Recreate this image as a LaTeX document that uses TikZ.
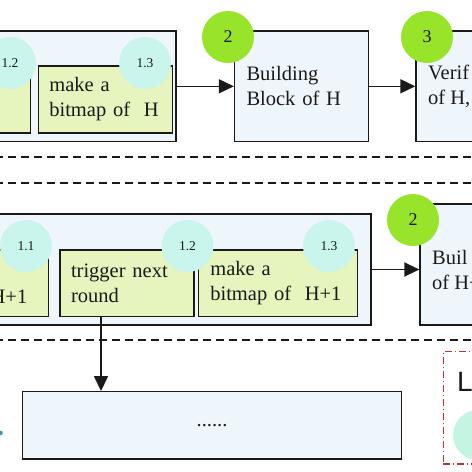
\documentclass[tikz,border=0pt]{standalone}
\usepackage{fontspec}
\setmainfont{Liberation Serif}
\newfontfamily\legfont{Liberation Sans}
\usetikzlibrary{arrows.meta}
\definecolor{boxblue}{HTML}{EFF6FB}
\definecolor{boxyel}{HTML}{E6F4BE}
\definecolor{cyanc}{HTML}{C9F5EC}
\definecolor{limec}{HTML}{98E42A}
\definecolor{mintc}{HTML}{C4F5E2}
\definecolor{legred}{HTML}{C0303A}
\definecolor{teald}{HTML}{3A9AAA}
\definecolor{ink}{HTML}{1A1A1A}
\tikzset{
  outerbox/.style={draw=ink, line width=1.3pt, fill=boxblue, inner sep=0pt},
  innerbox/.style={draw=ink, line width=1.3pt, fill=boxyel, inner sep=0pt},
  txt/.style={font=\fontsize{20.5}{25}\selectfont, text=ink, align=left},
  smallc/.style={circle, fill=cyanc, minimum size=52pt, inner sep=0pt, font=\fontsize{13.5}{15}\selectfont, text=ink},
  bigc/.style={circle, fill=limec, minimum size=52pt, inner sep=0pt, font=\fontsize{18}{20}\selectfont, text=ink},
  sep/.style={ink, line width=1.3pt, dash pattern=on 8pt off 5pt},
  arr/.style={ink, line width=1.5pt, -{Triangle[length=15pt,width=14pt]}},
}
\begin{document}
\begin{tikzpicture}[x=1pt,y=-1pt]
\useasboundingbox (0,0) rectangle (472,472);
\clip (0,0) rectangle (472,472);
% ---- top row (round H) ----
\node[outerbox, minimum width=196pt, minimum height=110.7pt] (o1) at (78,86.3) {};
\node[innerbox, minimum width=50.5pt, minimum height=67pt] (i1a) at (5.25,99.5) {};
\node[innerbox, minimum width=130.7pt, minimum height=67pt, txt, text width=112pt, inner xsep=11pt] (i1c) at (105.35,99.5) {make a\\bitmap of~ H};
\node[smallc] (c12) at (10,63) {1.2};
\node[smallc] (c13) at (145,63) {1.3};
\node[outerbox, minimum width=131pt, minimum height=110.7pt, txt, text width=110pt, inner xsep=12pt] (b2) at (301.5,86.3) {Building\\Block of H};
\node[bigc] (g2) at (228,37) {2};
\node[outerbox, minimum width=104pt, minimum height=110.7pt] (b3) at (468,86.3) {};
\node[txt, anchor=west, inner sep=0pt] (t3) at (428,86) {Verif\\of H,};
\node[bigc] (g3) at (427,37) {3};
\draw[arr] (o1.east) -- (b2.west);
\draw[arr] (b2.east) -- (b3.west);
% ---- separators ----
\coordinate (s1l) at (-5,157); \coordinate (s1r) at (477,157);
\coordinate (s2l) at (-5,183); \coordinate (s2r) at (477,183);
\coordinate (s3l) at (-5,340); \coordinate (s3r) at (477,340);
\draw[sep] (s1l) -- (s1r);
\draw[sep] (s2l) -- (s2r);
\draw[sep] (s3l) -- (s3r);
% ---- middle row (round H+1) ----
\node[outerbox, minimum width=391pt, minimum height=111pt] (o2) at (175.5,269.5) {};
\node[innerbox, minimum width=68.7pt, minimum height=66.7pt] (j1) at (14.35,283.35) {};
\node[txt, anchor=base east, inner sep=0pt] (j1t) at (27.5,303.5) {H+1};
\node[innerbox, minimum width=130.6pt, minimum height=66.7pt, txt, text width=112pt, inner xsep=11pt] (j2) at (127,283.35) {trigger next\\round};
\node[innerbox, minimum width=153.7pt, minimum height=66.7pt, txt, text width=135pt, inner xsep=12pt] (j3) at (277.85,283.35) {make a\\bitmap of~ H+1};
\node[smallc] (d11) at (26,246) {1.1};
\node[smallc] (d12) at (187.5,246) {1.2};
\node[smallc] (d13) at (329,246) {1.3};
\node[outerbox, minimum width=100pt, minimum height=121pt] (b2b) at (470,264.5) {};
\node[txt, anchor=west, inner sep=0pt] (t2b) at (432,270) {Buil\\of H+};
\node[bigc] (g2b) at (413,220) {2};
\draw[arr] (o2.east) -- (o2.east -| b2b.west);
% ---- bottom ----
\node[outerbox, minimum width=379.4pt, minimum height=67.3pt, txt] (bot) at (212,425.35) {......};
\draw[arr] ([xshift=-26pt]j2.south) -- ([xshift=-26pt]j2.south |- bot.north);
\fill[teald] (0.5,433) circle (2.3pt);
% ---- legend ----
\node[draw=legred, line width=1.2pt, dash pattern=on 7pt off 3pt on 1pt off 3pt, minimum width=60pt, minimum height=112.3pt] (leg) at (473.3,407.85) {};
\node[font=\legfont\fontsize{28}{30}\selectfont, text=ink, anchor=west, inner sep=0pt] (legt) at (457,382) {L};
\node[circle, fill=mintc, minimum size=50pt, inner sep=0pt] (legc) at (478,435) {};
\end{tikzpicture}
\end{document}
